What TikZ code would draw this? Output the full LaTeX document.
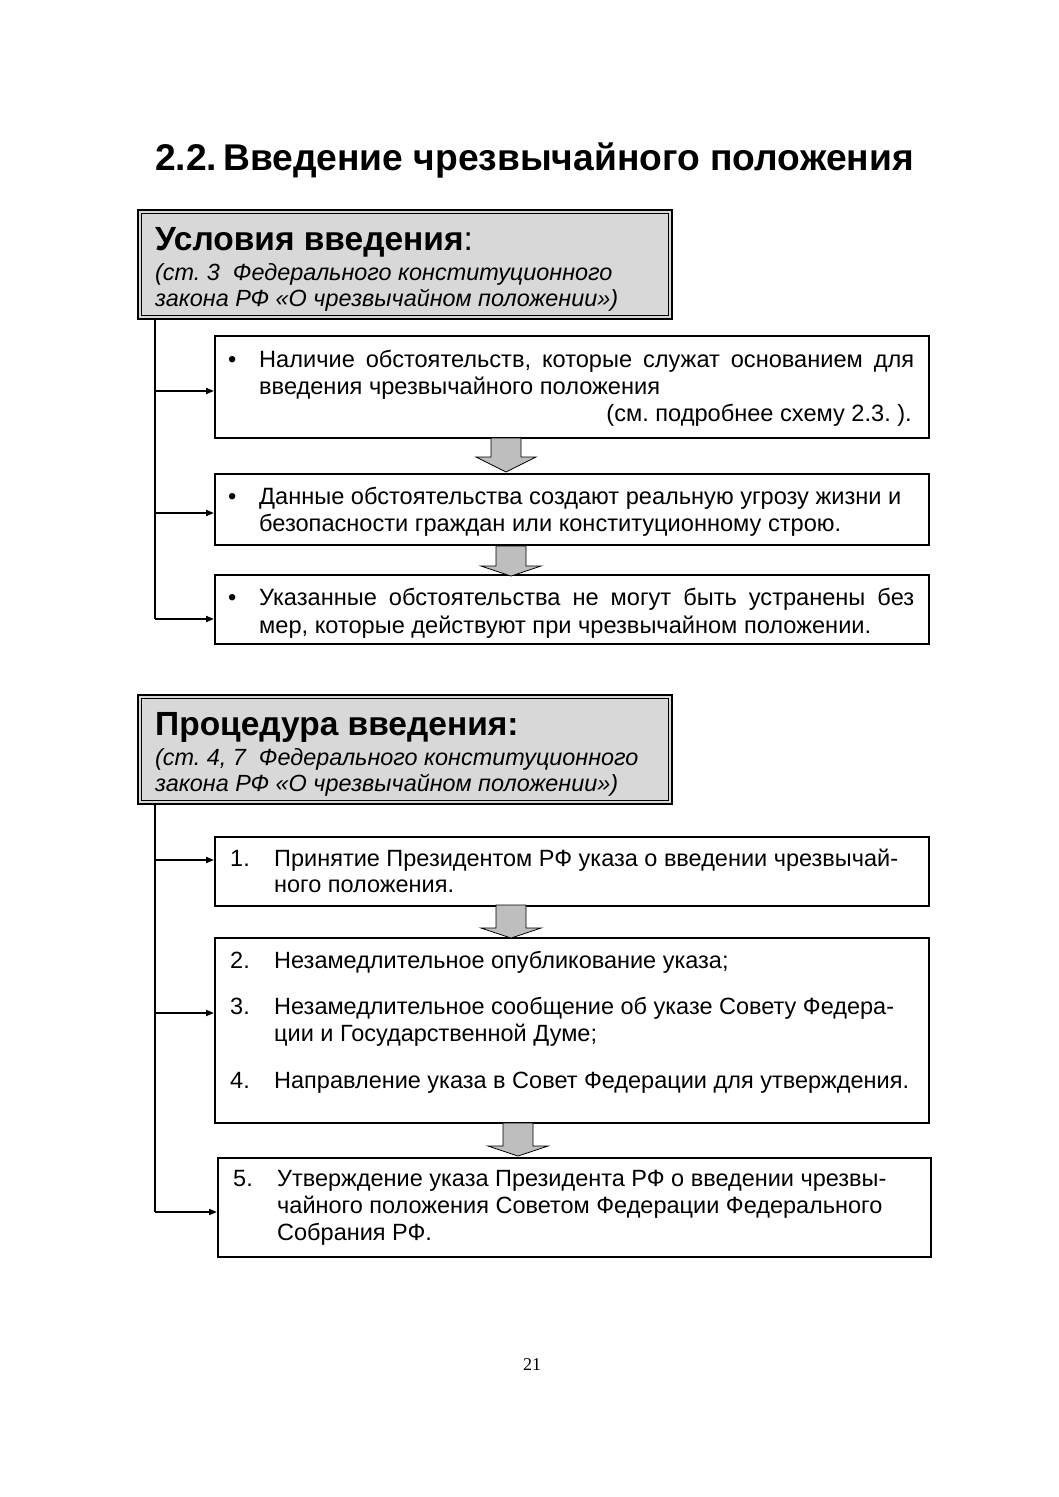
\documentclass[tikz,border=0pt]{standalone}
\usepackage{fontspec}
\setmainfont{Liberation Sans}
\newfontfamily\pagefont{Liberation Serif}
\usetikzlibrary{arrows.meta}
\definecolor{hdrgray}{RGB}{216,216,216}
\definecolor{arrgray}{RGB}{190,190,190}
\frenchspacing
\tikzset{
  box/.style={draw, line width=2pt, fill=white, rectangle, anchor=north west, inner sep=0pt},
  hdrbox/.style={draw, line width=1.6pt, fill=hdrgray, rectangle, anchor=north west, inner sep=0pt},
  txt/.style={anchor=base west, inner sep=0pt, font=\fontsize{23.6pt}{26pt}\selectfont},
  ntxt/.style={anchor=base west, inner sep=0pt, font=\fontsize{23.5pt}{26pt}\selectfont},
  hdrtitle/.style={anchor=base west, inner sep=0pt, font=\fontsize{33.5pt}{36pt}\selectfont\bfseries},
  hdrsub/.style={anchor=base west, inner sep=0pt, font=\fontsize{23.4pt}{26pt}\selectfont\itshape},
  conn/.style={line width=1.8pt, -{Triangle[length=8pt,width=6pt]}},
  trunk/.style={line width=1.8pt},
  blockarrow/.style={draw, line width=0.8pt, fill=arrgray}
}
\newcommand{\blockdown}[4]{% center x, top y, head y, tip y
  \path[blockarrow] (#1-15,#2) -- (#1+15,#2) -- (#1+15,#3) -- (#1+30,#3) -- (#1,#4) -- (#1-30,#3) -- (#1-15,#3) -- cycle;}
\begin{document}
\begin{tikzpicture}[x=1pt,y=-1pt]
\useasboundingbox[fill=white] (0,0) rectangle (1059,1497);

% title
\node[anchor=base west, inner sep=0pt, font=\fontsize{37.2pt}{40pt}\selectfont\bfseries] (title) at (155,170) {2.2.\hspace{6pt}Введение чрезвычайного положения};

% ---------- Section 1 ----------
\node[hdrbox, minimum width=534, minimum height=109] (h1) at (137,209) {};
\node[hdrtitle] (h1t) at (155,250) {Условия введения{\mdseries:}};
\node[hdrsub] (h1s1) at (155,280) {(ст. 3\ \ Федерального конституционного};
\node[hdrsub] (h1s2) at (155,306) {закона РФ «О чрезвычайном положении»)};
\draw[line width=0.8pt] ([shift={(4,4)}]h1.north west) rectangle ([shift={(-4,-4)}]h1.south east);

\node[box, minimum width=714, minimum height=102] (a) at (214,335) {};
\node[box, minimum width=714, minimum height=71] (b) at (214,473) {};
\node[box, minimum width=714, minimum height=69] (c) at (214,574) {};

\node[txt] (abul) at (228,367) {\textbullet};
\node[txt] (a1) at (259,367) {\makebox[655pt][s]{Наличие обстоятельств, которые служат основанием для}};
\node[txt] (a2) at (259,394) {введения чрезвычайного положения};
\node[txt, anchor=base east] (a3) at (912,421) {(см. подробнее схему 2.3. ).};

\node[txt] (bbul) at (228,504) {\textbullet};
\node[txt] (b1) at (259,504) {Данные обстоятельства создают реальную угрозу жизни и};
\node[txt] (b2) at (259,531) {безопасности граждан или конституционному строю.};

\node[txt] (cbul) at (228,605) {\textbullet};
\node[txt] (c1) at (259,605) {\makebox[655pt][s]{Указанные обстоятельства не могут быть устранены без}};
\node[txt] (c2) at (259,633) {мер, которые действуют при чрезвычайном положении.};

\blockdown{506}{438}{457}{472}
\blockdown{511}{546}{566}{576}

\coordinate (t1top) at (155,318);
\coordinate (t1bot) at (155,619);
\draw[trunk] (t1top) -- (t1bot);
\draw[conn] (155,391) -- (a.west |- 0,391);
\draw[conn] (155,513) -- (b.west |- 0,513);
\draw[conn] (t1bot) -- (c.west |- t1bot);

% ---------- Section 2 ----------
\node[hdrbox, minimum width=534, minimum height=109] (h2) at (137,694) {};
\node[hdrtitle] (h2t) at (155,735) {Процедура введения:};
\node[hdrsub] (h2s1) at (155,765) {(ст. 4, 7\ \ Федерального конституционного};
\node[hdrsub] (h2s2) at (155,791) {закона РФ «О чрезвычайном положении»)};
\draw[line width=0.8pt] ([shift={(4,4)}]h2.north west) rectangle ([shift={(-4,-4)}]h2.south east);

\node[box, minimum width=714, minimum height=69] (p1) at (214,836) {};
\node[box, minimum width=714, minimum height=185] (p2) at (214,937) {};
\node[box, minimum width=713, minimum height=99] (p3) at (217,1157) {};

\node[ntxt] (n1) at (230,866) {1.};
\node[ntxt] (p1a) at (274,866) {Принятие Президентом РФ указа о введении чрезвычай-};
\node[ntxt] (p1b) at (274,892) {ного положения.};

\node[ntxt] (n2) at (230,968) {2.};
\node[ntxt] (p2a) at (274,968) {Незамедлительное опубликование указа;};
\node[ntxt] (n3) at (230,1014) {3.};
\node[ntxt] (p2b) at (274,1014) {Незамедлительное сообщение об указе Совету Федера-};
\node[ntxt] (p2c) at (274,1041) {ции и Государственной Думе;};
\node[ntxt] (n4) at (230,1088) {4.};
\node[ntxt] (p2d) at (274,1088) {Направление указа в Совет Федерации для утверждения.};

\node[ntxt] (n5) at (233,1186) {5.};
\node[ntxt] (p3a) at (277,1186) {Утверждение указа Президента РФ о введении чрезвы-};
\node[ntxt] (p3b) at (277,1213) {чайного положения Советом Федерации Федерального};
\node[ntxt] (p3c) at (277,1240) {Собрания РФ.};

\blockdown{511}{905}{928}{938}
\blockdown{518}{1123}{1146}{1156}

\coordinate (t2top) at (155,803);
\coordinate (t2bot) at (155,1212);
\draw[trunk] (t2top) -- (t2bot);
\draw[conn] (155,860) -- (p1.west |- 0,860);
\draw[conn] (155,1013) -- (p2.west |- 0,1013);
\draw[conn] (t2bot) -- (p3.west |- t2bot);

% page number
\node[anchor=base, inner sep=0pt, font=\fontsize{18pt}{20pt}\selectfont\pagefont] (pnum) at (532,1370) {21};
\end{tikzpicture}
\end{document}
